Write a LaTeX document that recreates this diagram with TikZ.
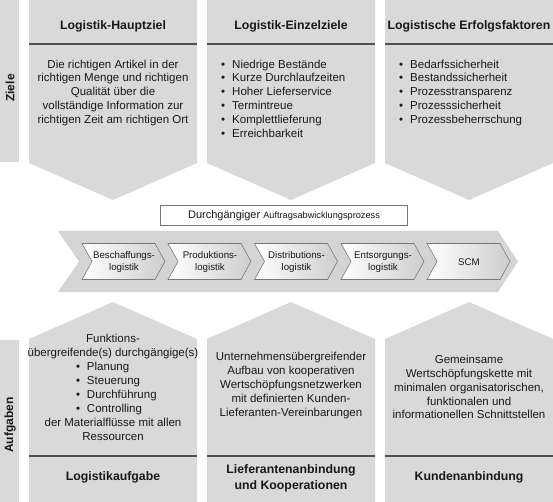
\documentclass[tikz,border=0pt]{standalone}
\usepackage{fontspec}
\setmainfont{Liberation Sans}
\definecolor{colgray}{RGB}{217,217,217}
\definecolor{bandgray}{RGB}{212,212,212}
\definecolor{linegray}{RGB}{80,80,80}
\definecolor{chevline}{RGB}{120,120,120}
\definecolor{chevdark}{RGB}{205,205,205}
\definecolor{txt}{RGB}{25,25,25}
\newcommand\bitem{\makebox[11pt][l]{\textbullet}}
\newcommand\bline[1]{\makebox[74pt][l]{\bitem #1}}
\tikzset{
  colfill/.style={fill=colgray, draw=none},
  sepline/.style={draw=linegray, line width=1.3pt},
  hdr/.style={font=\bfseries\fontsize{12.3}{15}\selectfont, text=txt, inner sep=0pt},
  body/.style={font=\fontsize{11.5}{13.9}\selectfont, text=txt, inner sep=0pt},
  sidelabel/.style={font=\bfseries\fontsize{12}{14}\selectfont, text=txt, rotate=90, inner sep=0pt},
  chevshape/.style={draw=chevline, line width=0.6pt, left color=white, right color=chevdark},
  chevtext/.style={font=\fontsize{9.7}{11.5}\selectfont, text=txt, align=center, inner sep=0pt},
  procbox/.style={draw=chevline, line width=0.8pt, fill=white, minimum width=247pt, minimum height=20pt, inner sep=0pt, text=txt}
}
\begin{document}
\begin{tikzpicture}[x=1pt,y=-1pt]
\useasboundingbox (0,0) rectangle (553,502);
% side bars
\fill[colfill] (0,0) rectangle (19,162);
\fill[colfill] (0,340) rectangle (19,502);
\node[sidelabel] (ziele) at (10,88) {Ziele};
\node[sidelabel] (aufgaben) at (10,425) {Aufgaben};
% top and bottom columns
\foreach \x in {29,207,385}{
  \fill[colfill] (\x,0) -- ++(168,0) -- ++(0,163) -- ++(-84,37) -- ++(-84,-37) -- cycle;
  \draw[sepline] (\x,44) -- ++(168,0);
  \fill[colfill] (\x,502) -- (\x,339) -- ++(84,-37) -- ++(84,37) -- ++(0,163) -- cycle;
  \draw[sepline] (\x,456) -- ++(168,0);
}
% headers
\node[hdr] (h1) at (113,26) {Logistik-Hauptziel};
\node[hdr] (h2) at (291,26) {Logistik-Einzelziele};
\node[hdr] (h3) at (469,26) {Logistische Erfolgsfaktoren};
% top bodies
\node[body, align=center, anchor=north] (t1) at (113,59.5) {Die richtigen Artikel in der\\richtigen Menge und richtigen\\Qualität über die\\vollständige Information zur\\richtigen Zeit am richtigen Ort};
\node[body, align=left, anchor=north west] (t2) at (221,59.5) {\bitem Niedrige Bestände\\\bitem Kurze Durchlaufzeiten\\\bitem Hoher Lieferservice\\\bitem Termintreue\\\bitem Komplettlieferung\\\bitem Erreichbarkeit};
\node[body, align=left, anchor=north west] (t3) at (399,59.5) {\bitem Bedarfssicherheit\\\bitem Bestandssicherheit\\\bitem Prozesstransparenz\\\bitem Prozesssicherheit\\\bitem Prozessbeherrschung};
% process box
\node[procbox] (proc) at (284,215.5) {\fontsize{11}{13}\selectfont Durchgängiger {\fontsize{9.2}{13}\selectfont Auftragsabwicklungsprozess}};
% band
\fill[bandgray] (58,231) -- (498,231) -- (518,261.5) -- (498,292) -- (58,292) -- (79,261.5) -- cycle;
% chevrons
\foreach \L/\t/\n in {82/{Beschaffungs-\\logistik}/c1, 168/{Produktions-\\logistik}/c2, 254.5/{Distributions-\\logistik}/c3, 341/{Entsorgungs-\\logistik}/c4, 427/{SCM}/c5}{
  \draw[chevshape] (\L,243.5) -- ++(73,0) -- ++(10,18) -- ++(-10,18) -- ++(-73,0) -- ++(10,-18) -- cycle;
  \node[chevtext] (\n) at (\L+42,262) {\t};
}
% bottom bodies
\node[body, align=center] (b1) at (113,387.5) {Funktions-\\übergreifende(s) durchgängige(s)\\\bline{Planung}\\\bline{Steuerung}\\\bline{Durchführung}\\\bline{Controlling}\\der Materialflüsse mit allen\\Ressourcen};
\node[body, align=center] (b2) at (291,385.5) {Unternehmensübergreifender\\Aufbau von kooperativen\\Wertschöpfungsnetzwerken\\mit definierten Kunden-\\Lieferanten-Vereinbarungen};
\node[body, align=center] (b3) at (469,387) {Gemeinsame\\Wertschöpfungskette mit\\minimalen organisatorischen,\\funktionalen und\\informationellen Schnittstellen};
% footers
\node[hdr] (f1) at (113,477.5) {Logistikaufgabe};
\node[hdr, align=center, font=\bfseries\fontsize{12.3}{16}\selectfont] (f2) at (291,478) {Lieferantenanbindung\\und Kooperationen};
\node[hdr] (f3) at (469,477.5) {Kundenanbindung};
\end{tikzpicture}
\end{document}
